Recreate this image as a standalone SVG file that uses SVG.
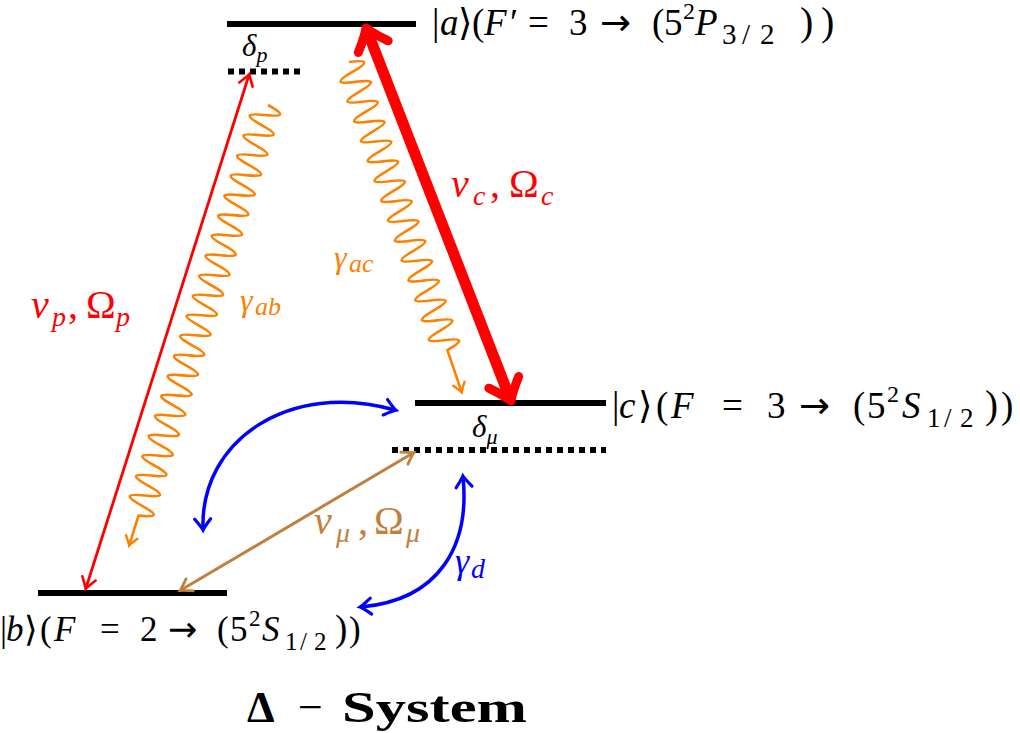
<svg xmlns="http://www.w3.org/2000/svg" width="1020" height="733" viewBox="0 0 1020 733">
<style>
.m{font-family:"Liberation Serif","DejaVu Serif",serif;}
.i{font-style:italic;}
.ar{font-family:"DejaVu Sans",sans-serif;}
.lvl{stroke:#000;stroke-width:6;fill:none;}
.dot{stroke:#000;stroke-width:6;fill:none;stroke-dasharray:6 5;}
.wave{fill:none;stroke:#ff8000;stroke-width:2.6;stroke-linejoin:round;}
</style>
<defs>
<marker id="mRed" markerUnits="userSpaceOnUse" viewBox="-30 -30 60 60" markerWidth="60" markerHeight="60" refX="-1" refY="0" orient="auto-start-reverse"><path d="M-11,-7 Q-3,-1.5 0,0 Q-3,1.5 -11,7" fill="none" stroke="#ff0000" stroke-width="2.6" stroke-linecap="round"/></marker>
<marker id="mRedBig" markerUnits="userSpaceOnUse" viewBox="-40 -40 80 80" markerWidth="80" markerHeight="80" refX="-6" refY="0" orient="auto-start-reverse"><path d="M-20,-16 Q-7,-4 0,0 Q-7,4 -20,16" fill="none" stroke="#ff0000" stroke-width="9" stroke-linecap="round" stroke-linejoin="round"/></marker>
<marker id="mOr" markerUnits="userSpaceOnUse" viewBox="-30 -30 60 60" markerWidth="60" markerHeight="60" refX="-1" refY="0" orient="auto"><path d="M-9,-6 Q-3,-1.5 0,0 Q-3,1.5 -9,6" fill="none" stroke="#ff8000" stroke-width="2.4" stroke-linecap="round"/></marker>
<marker id="mBr" markerUnits="userSpaceOnUse" viewBox="-30 -30 60 60" markerWidth="60" markerHeight="60" refX="-1" refY="0" orient="auto-start-reverse"><path d="M-11,-7 Q-3,-1.5 0,0 Q-3,1.5 -11,7" fill="none" stroke="#bf8040" stroke-width="2.8" stroke-linecap="round"/></marker>
<marker id="mBl" markerUnits="userSpaceOnUse" viewBox="-30 -30 60 60" markerWidth="60" markerHeight="60" refX="-1" refY="0" orient="auto-start-reverse"><path d="M-11,-8 Q-3,-1.5 0,0 Q-3,1.5 -11,8" fill="none" stroke="#0000ff" stroke-width="3.2" stroke-linecap="round"/></marker>
</defs>

<g id="level-a">
<line class="lvl" x1="227" y1="24" x2="416" y2="24"/>
<text class="m" font-size="37" y="35"><tspan x="432">|</tspan><tspan x="440" class="i">a</tspan><tspan x="458">⟩</tspan><tspan x="472">(</tspan><tspan x="484" class="i">F</tspan><tspan x="510">′</tspan><tspan x="528">=</tspan><tspan x="569">3</tspan><tspan x="600" class="ar">→</tspan><tspan x="652">(</tspan><tspan x="664">5</tspan><tspan x="683" y="19" font-size="24">2</tspan><tspan x="695" y="35" class="i">P</tspan><tspan x="722" y="44" font-size="29">3</tspan><tspan x="742" font-size="29">/</tspan><tspan x="760" font-size="29">2</tspan><tspan x="800" y="35" font-size="40">)</tspan><tspan x="821" font-size="40">)</tspan></text>
</g>
<g id="level-ap">
<line class="dot" x1="228" y1="71.5" x2="303" y2="71.5"/>
<text class="m i" x="242" y="56" font-size="31">δ<tspan font-size="22" dy="6">p</tspan></text>
</g>
<g id="level-c">
<line class="lvl" x1="415" y1="403" x2="606" y2="403"/>
<text class="m" font-size="37" y="418"><tspan x="612">|</tspan><tspan x="619" class="i">c</tspan><tspan x="638">⟩</tspan><tspan x="656">(</tspan><tspan x="671" class="i">F</tspan><tspan x="722">=</tspan><tspan x="767">3</tspan><tspan x="799" class="ar">→</tspan><tspan x="853">(</tspan><tspan x="867">5</tspan><tspan x="887" y="402" font-size="24">2</tspan><tspan x="902" y="418" class="i">S</tspan><tspan x="927" y="427" font-size="27">1</tspan><tspan x="944" font-size="27">/</tspan><tspan x="960" font-size="27">2</tspan><tspan x="985" y="418" font-size="39">)</tspan><tspan x="1001">)</tspan></text>
</g>
<g id="level-cp">
<line class="dot" x1="392" y1="450" x2="606" y2="450"/>
<text class="m i" x="472" y="437" font-size="31">δ<tspan font-size="22" dy="7">μ</tspan></text>
</g>
<g id="level-b">
<line class="lvl" x1="38" y1="593" x2="227" y2="593"/>
<text class="m" font-size="35" y="641"><tspan x="0">|</tspan><tspan x="6" class="i">b</tspan><tspan x="24">⟩</tspan><tspan x="40">(</tspan><tspan x="54" class="i">F</tspan><tspan x="100">=</tspan><tspan x="140">2</tspan><tspan x="168" class="ar">→</tspan><tspan x="217">(</tspan><tspan x="230">5</tspan><tspan x="249" y="626" font-size="23">2</tspan><tspan x="262" y="641" class="i">S</tspan><tspan x="285" y="650" font-size="25">1</tspan><tspan x="300" font-size="25">/</tspan><tspan x="314" font-size="25">2</tspan><tspan x="335" y="641" font-size="37">)</tspan><tspan x="349">)</tspan></text>
</g>

<g id="connectors">
<line x1="86" y1="588" x2="249" y2="75" stroke="#ff0000" stroke-width="2.8" marker-start="url(#mRed)" marker-end="url(#mRed)"/>
<line x1="368.2" y1="33.6" x2="508.8" y2="395.4" stroke="#ff0000" stroke-width="11" marker-start="url(#mRedBig)" marker-end="url(#mRedBig)"/>
<path class="wave" transform="translate(268,105) rotate(107.5)" marker-end="url(#mOr)" d="M0,0 c3.8,-19 6.7,-19 10.5,0 s6.7,19 10.5,0 s6.7,-19 10.5,0 s6.7,19 10.5,0 s6.7,-19 10.5,0 s6.7,19 10.5,0 s6.7,-19 10.5,0 s6.7,19 10.5,0 s6.7,-19 10.5,0 s6.7,19 10.5,0 s6.7,-19 10.5,0 s6.7,19 10.5,0 s6.7,-19 10.5,0 s6.7,19 10.5,0 s6.7,-19 10.5,0 s6.7,19 10.5,0 s6.7,-19 10.5,0 s6.7,19 10.5,0 s6.7,-19 10.5,0 s6.7,19 10.5,0 s6.7,-19 10.5,0 s6.7,19 10.5,0 s6.7,-19 10.5,0 s6.7,19 10.5,0 s6.7,-19 10.5,0 s6.7,19 10.5,0 s6.7,-19 10.5,0 s6.7,19 10.5,0 s6.7,-19 10.5,0 s6.7,19 10.5,0 s6.7,-19 10.5,0 s6.7,19 10.5,0 s6.7,-19 10.5,0 s6.7,19 10.5,0 s6.7,-19 10.5,0 s6.7,19 10.5,0 s6.7,-19 10.5,0 s6.7,19 10.5,0 s6.7,-19 10.5,0 s6.7,19 10.5,0 s6.7,-19 10.5,0 L461,0"/>
<path class="wave" transform="translate(349,62) rotate(71.15)" marker-end="url(#mOr)" d="M0,0 c3.8,-19 6.7,-19 10.5,0 s6.7,19 10.5,0 s6.7,-19 10.5,0 s6.7,19 10.5,0 s6.7,-19 10.5,0 s6.7,19 10.5,0 s6.7,-19 10.5,0 s6.7,19 10.5,0 s6.7,-19 10.5,0 s6.7,19 10.5,0 s6.7,-19 10.5,0 s6.7,19 10.5,0 s6.7,-19 10.5,0 s6.7,19 10.5,0 s6.7,-19 10.5,0 s6.7,19 10.5,0 s6.7,-19 10.5,0 s6.7,19 10.5,0 s6.7,-19 10.5,0 s6.7,19 10.5,0 s6.7,-19 10.5,0 s6.7,19 10.5,0 s6.7,-19 10.5,0 s6.7,19 10.5,0 s6.7,-19 10.5,0 s6.7,19 10.5,0 s6.7,-19 10.5,0 s6.7,19 10.5,0 s6.7,-19 10.5,0 L348,0"/>
<line x1="181" y1="590" x2="413" y2="453" stroke="#bf8040" stroke-width="3" marker-start="url(#mBr)" marker-end="url(#mBr)"/>
<path d="M203,529 C200,440 290,380 395,410" fill="none" stroke="#0000ff" stroke-width="3.5" marker-start="url(#mBl)" marker-end="url(#mBl)"/>
<path d="M463,477 C470,545 440,600 361,607" fill="none" stroke="#0000ff" stroke-width="3.5" marker-start="url(#mBl)" marker-end="url(#mBl)"/>
</g>

<g id="labels">
<text class="m" font-size="40" fill="#ff0000" y="318"><tspan x="31" class="i">ν</tspan><tspan x="52" y="326" class="i" font-size="28">p</tspan><tspan x="68" y="318">,</tspan><tspan x="86">Ω</tspan><tspan x="116" y="326" class="i" font-size="28">p</tspan></text>
<text class="m i" font-size="32" fill="#ff8000" y="311"><tspan x="240">γ</tspan><tspan x="255" y="315" font-size="26">ab</tspan></text>
<text class="m i" font-size="32" fill="#ff8000" y="268"><tspan x="334">γ</tspan><tspan x="349" y="272" font-size="26">ac</tspan></text>
<text class="m" font-size="40" fill="#ff0000" y="197"><tspan x="451" class="i">ν</tspan><tspan x="473" y="205" class="i" font-size="28">c</tspan><tspan x="490" y="197">,</tspan><tspan x="509">Ω</tspan><tspan x="541" y="205" class="i" font-size="28">c</tspan></text>
<text class="m" font-size="40" fill="#bf8040" y="534"><tspan x="314" class="i">ν</tspan><tspan x="336" y="542" class="i" font-size="28">μ</tspan><tspan x="358" y="534">,</tspan><tspan x="374">Ω</tspan><tspan x="406" y="542" class="i" font-size="28">μ</tspan></text>
<text class="m i" font-size="36" fill="#0000ff" y="573"><tspan x="455">γ</tspan><tspan x="471" y="578" font-size="28">d</tspan></text>
<text class="m" font-size="44" font-weight="bold" y="722"><tspan x="247">Δ</tspan><tspan x="298" font-weight="normal">−</tspan></text>
<text class="m" x="342" y="722" font-size="44" font-weight="bold" textLength="185" lengthAdjust="spacingAndGlyphs">System</text>
</g>
</svg>
